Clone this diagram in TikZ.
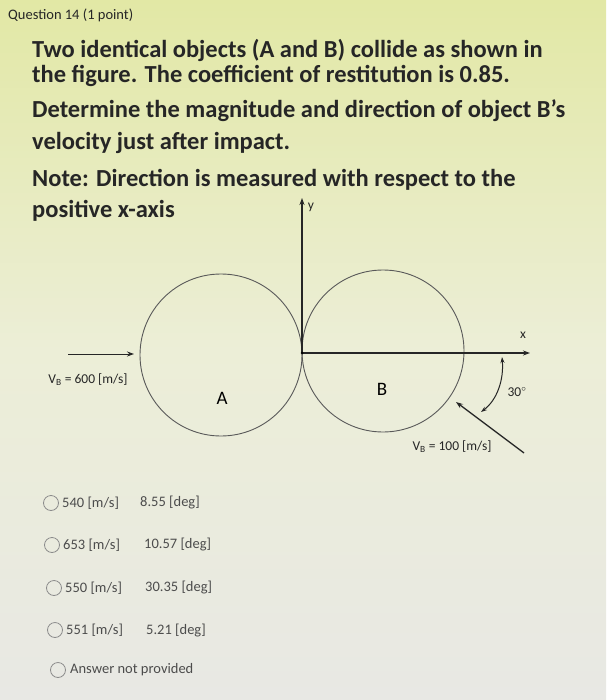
\documentclass[tikz,border=0pt]{standalone}
\usepackage{fontspec}
\setmainfont{Carlito}
\usetikzlibrary{arrows.meta}
\begin{document}
\begin{tikzpicture}[x=1pt,y=-1pt,
  body/.style={anchor=west,font=\fontsize{24.5}{27}\selectfont\bfseries,text=black!85,inner sep=0pt},
  small/.style={font=\fontsize{13.5}{15}\selectfont,text=black!85,inner sep=0pt},
  ans/.style={anchor=west,font=\fontsize{14.5}{16}\selectfont,text=black!70,inner sep=0pt},
  radio/.style={circle,draw=black!45,line width=0.8pt,minimum size=15pt,inner sep=0pt},
  ball/.style={draw=black!65,line width=0.9pt},
  vec/.style={-{Stealth[length=7pt,width=5pt]},line width=1pt,black!85}]
\shade[top color={rgb,255:red,226;green,232;blue,165},bottom color={rgb,255:red,232;green,232;blue,228},middle color={rgb,255:red,236;green,238;blue,215}] (0,0) rectangle (606,700);
\useasboundingbox (0,0) rectangle (606,700);
\node[anchor=west,inner sep=0pt,font=\fontsize{14.5}{16}\selectfont,text=black!85] (q) at (8,15) {Question 14 (1 point)};
\node[body] (l1) at (32,50) {Two identical objects (A and B) collide as shown in};
\node[body] (l2) at (32,76) {the figure. The coefficient of restitution is 0.85.};
\node[body] (l3) at (32,111) {Determine the magnitude and direction of object B’s};
\node[body] (l4) at (32,143) {velocity just after impact.};
\node[body] (l5) at (32,180) {Note: Direction is measured with respect to the};
\node[body] (l6) at (32,211) {positive x-axis};
% figure
\draw[ball] (221,355) circle (81);
\draw[ball] (383,351) circle (81);
\coordinate (O) at (302,353);
\coordinate (ytip) at (302,198);
\coordinate (xtip) at (530,353);
\draw[vec,line width=1.3pt] (O) -- (ytip);
\draw[vec,line width=1.3pt] (O) -- (xtip);
\fill (O) circle (1.5);
\node[small] (ylab) at (311,207) {y};
\node[small] (xlab) at (523,335) {x};
\node[font=\fontsize{19}{21}\selectfont,inner sep=0pt] (A) at (222,398) {A};
\node[font=\fontsize{19}{21}\selectfont,inner sep=0pt] (B) at (382,389) {B};
\coordinate (va1) at (68,354);
\coordinate (va2) at (134,354);
\draw[vec] (va1) -- (va2);
\node[small] (valab) at (88,380) {V$_{\mathrm B}$ = 600 [m/s]};
\coordinate (vb1) at (524,453);
\coordinate (vb2) at (456,402);
\draw[vec,line width=1.3pt] (vb1) -- (vb2);
\node[small] (vblab) at (452,447) {V$_{\mathrm B}$ = 100 [m/s]};
\coordinate (a1) at (502,357);
\coordinate (a2) at (481,412);
\draw[{Stealth[length=6pt,width=4pt]}-{Stealth[length=6pt,width=4pt]},line width=1pt,black!85] (a1) .. controls (504,380) and (497,400) .. (a2);
\node[small] (ang) at (517,392) {30$^\circ$};
% answers
\node[radio] (r1) at (51,503) {}; \node[ans] (t1) at (62,503) {540 [m/s]}; \node[ans] (u1) at (140,503) {8.55 [deg]};
\node[radio] (r2) at (52,545) {}; \node[ans] (t2) at (63,545) {653 [m/s]}; \node[ans] (u2) at (144,545) {10.57 [deg]};
\node[radio] (r3) at (54,588) {}; \node[ans] (t3) at (65,588) {550 [m/s]}; \node[ans] (u3) at (145,588) {30.35 [deg]};
\node[radio] (r4) at (55,630) {}; \node[ans] (t4) at (66,630) {551 [m/s]}; \node[ans] (u4) at (146,630) {5.21 [deg]};
\node[radio] (r5) at (58,670) {}; \node[ans] (t5) at (70,670) {Answer not provided};
\end{tikzpicture}
\end{document}
